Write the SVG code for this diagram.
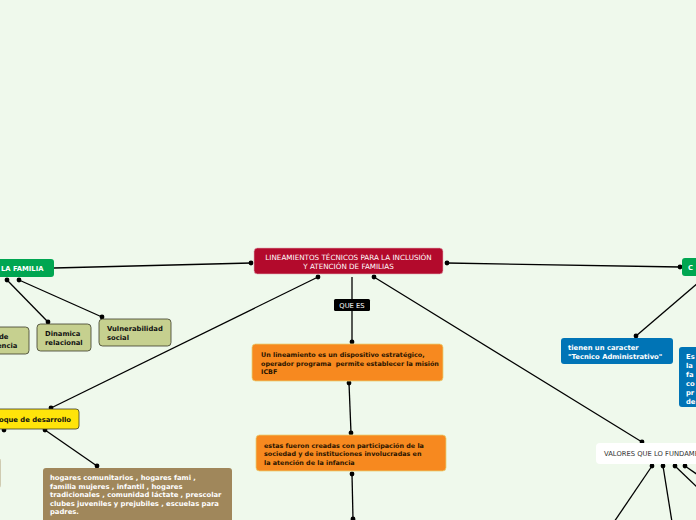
<svg xmlns="http://www.w3.org/2000/svg" width="696" height="520" viewBox="0 0 696 520">
<style>
.ln{stroke:#000;stroke-width:1.3;fill:none}
.dot{fill:#000}
text{font-family:"DejaVu Sans","Verdana",sans-serif}
.w{fill:#fff;font-weight:bold;font-size:6.8px}
.b{fill:#111;font-weight:bold;font-size:6.8px}
.o{fill:#2a1400;font-weight:bold;font-size:6.4px}
.olive{fill:#c6d08f;stroke:#3b3b2a;stroke-width:0.8}
</style>
<rect width="696" height="520" fill="#eff9ec"/>
<g id="connectors">
<line class="ln" x1="251" y1="263" x2="54" y2="268"/>
<line class="ln" x1="447" y1="263" x2="680" y2="267"/>
<line class="ln" x1="7" y1="280" x2="48" y2="322"/>
<line class="ln" x1="19" y1="280" x2="102" y2="317"/>
<line class="ln" x1="318" y1="277" x2="51" y2="408"/>
<line class="ln" x1="352" y1="277" x2="352" y2="342"/>
<line class="ln" x1="374" y1="277" x2="642" y2="442"/>
<line class="ln" x1="349" y1="383" x2="351" y2="433"/>
<line class="ln" x1="352" y1="474" x2="353" y2="519"/>
<line class="ln" x1="45" y1="430" x2="97" y2="466"/>
<line class="ln" x1="698" y1="283" x2="636" y2="336"/>
<line class="ln" x1="652" y1="466" x2="614" y2="522"/>
<line class="ln" x1="663" y1="466" x2="672" y2="522"/>
<line class="ln" x1="675" y1="466" x2="698" y2="488"/>
<line class="ln" x1="685" y1="466" x2="698" y2="475"/>
<circle class="dot" cx="251" cy="263" r="2.4"/>
<circle class="dot" cx="447" cy="263" r="2.4"/>
<circle class="dot" cx="680" cy="267" r="2.4"/>
<circle class="dot" cx="7" cy="280" r="2.4"/>
<circle class="dot" cx="19" cy="280" r="2.4"/>
<circle class="dot" cx="48" cy="322" r="2.4"/>
<circle class="dot" cx="102" cy="317" r="2.4"/>
<circle class="dot" cx="318" cy="277" r="2.4"/>
<circle class="dot" cx="374" cy="277" r="2.4"/>
<circle class="dot" cx="51" cy="408" r="2.4"/>
<circle class="dot" cx="352" cy="342" r="2.4"/>
<circle class="dot" cx="349" cy="383" r="2.4"/>
<circle class="dot" cx="351" cy="433" r="2.4"/>
<circle class="dot" cx="352" cy="474" r="2.4"/>
<circle class="dot" cx="353" cy="519" r="2.4"/>
<circle class="dot" cx="642" cy="442" r="2.4"/>
<circle class="dot" cx="4" cy="430" r="2.4"/>
<circle class="dot" cx="45" cy="430" r="2.4"/>
<circle class="dot" cx="97" cy="466" r="2.4"/>
<circle class="dot" cx="636" cy="336" r="2.4"/>
<circle class="dot" cx="652" cy="466" r="2.4"/>
<circle class="dot" cx="663" cy="466" r="2.4"/>
<circle class="dot" cx="675" cy="466" r="2.4"/>
<circle class="dot" cx="685" cy="466" r="2.4"/>
</g>
<g id="central">
<rect x="254" y="248" width="189" height="26" rx="3.5" fill="#b30a2c" stroke="#e0b0bb" stroke-width="0.6"/>
<text x="348.5" y="260" text-anchor="middle" fill="#fff" font-size="7.2">LINEAMIENTOS TÉCNICOS PARA LA INCLUSIÓN</text>
<text x="348.5" y="268.7" text-anchor="middle" fill="#fff" font-size="7.2">Y ATENCIÓN DE FAMILIAS</text>
</g>
<g id="que-es">
<rect x="334" y="299" width="36" height="12" rx="1.5" fill="#000"/>
<text x="352" y="307.6" text-anchor="middle" fill="#fff" font-size="6.8">QUE ES</text>
</g>
<g id="la-familia">
<rect x="-10" y="259" width="64" height="18" rx="3" fill="#00a651"/>
<text x="1" y="270.8" class="w" font-size="7.6">LA FAMILIA</text>
</g>
<g id="node-de-encia">
<rect x="-40" y="327" width="69" height="27" rx="3.5" class="olive"/>
<text x="-1" y="338.5" class="b">de</text>
<text x="-3" y="347.5" class="b">encia</text>
</g>
<g id="dinamica">
<rect x="37" y="324" width="54" height="27" rx="3.5" class="olive"/>
<text x="45" y="335.5" class="b">Dinamica</text>
<text x="45" y="344.5" class="b">relacional</text>
</g>
<g id="vulnerabilidad">
<rect x="99" y="319" width="72" height="27" rx="3.5" class="olive"/>
<text x="107" y="330.5" class="b">Vulnerabilidad</text>
<text x="107" y="339.5" class="b">social</text>
</g>
<g id="enfoque">
<rect x="-30" y="409" width="109" height="20" rx="3" fill="#ffe40a" stroke="#3b3b2a" stroke-width="0.8"/>
<text x="-1" y="421.6" class="b" font-size="7.2">oque de desarrollo</text>
</g>
<g id="left-partial">
<rect x="-60" y="458" width="61" height="30" rx="3" fill="#a0875b" opacity="0.4"/>
</g>
<g id="hogares">
<rect x="43" y="468" width="189" height="60" rx="3" fill="#a0875b"/>
<text x="50" y="480" class="w" font-size="7.1">hogares comunitarios , hogares fami ,</text>
<text x="50" y="488.6" class="w" font-size="7.1">familia mujeres , infantil , hogares</text>
<text x="50" y="497.2" class="w" font-size="7.1">tradicionales , comunidad láctate , prescolar</text>
<text x="50" y="505.8" class="w" font-size="7.1">clubes juveniles y prejubiles , escuelas para</text>
<text x="50" y="514.4" class="w" font-size="7.1">padres.</text>
</g>
<g id="lineamiento">
<rect x="252" y="344" width="191" height="37" rx="3.5" fill="#f7891f" stroke="#e7d27a" stroke-width="0.8"/>
<text x="261" y="357" class="o">Un lineamiento es un dispositivo estratégico,</text>
<text x="261" y="365.5" class="o" xml:space="preserve">operador programa  permite establecer la misión</text>
<text x="261" y="374" class="o">ICBF</text>
</g>
<g id="creadas">
<rect x="256" y="435" width="190" height="36" rx="3.5" fill="#f7891f" stroke="#e7d27a" stroke-width="0.8"/>
<text x="264" y="447.5" class="o" font-size="6.6">estas fueron creadas con participación de la</text>
<text x="264" y="456" class="o" font-size="6.6">sociedad y de instituciones involucradas en</text>
<text x="264" y="464.5" class="o" font-size="6.6">la atención de la infancia</text>
</g>
<g id="right-green">
<rect x="682" y="258" width="30" height="18" rx="3" fill="#00a651"/>
<text x="688" y="269.6" class="w">C</text>
</g>
<g id="tecnico">
<rect x="561" y="338" width="112" height="26" rx="3" fill="#0074b6"/>
<text x="568" y="349.5" class="w">tienen un caracter</text>
<text x="568" y="358.5" class="w">"Tecnico Administrativo"</text>
</g>
<g id="blue-right">
<rect x="679" y="347" width="40" height="60" rx="3" fill="#0074b6"/>
<text x="686" y="358.5" class="w">Es</text>
<text x="686" y="367.5" class="w">la</text>
<text x="686" y="376.5" class="w">fa</text>
<text x="686" y="385.5" class="w">co</text>
<text x="686" y="394.5" class="w">pr</text>
<text x="686" y="403.5" class="w">de</text>
</g>
<g id="valores">
<rect x="596" y="443" width="110" height="21" rx="4" fill="#fff"/>
<text x="604" y="456.3" fill="#333" font-size="6.8">VALORES QUE LO FUNDAMENTAN</text>
</g>
</svg>
